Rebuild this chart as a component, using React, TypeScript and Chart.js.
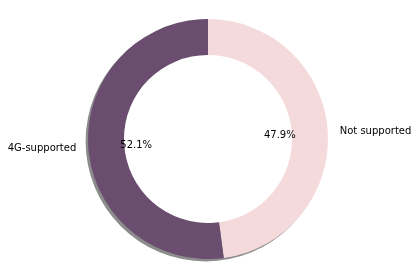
import React, { useEffect, useRef } from "react";
import { Chart, registerables } from "chart.js";

Chart.register(...registerables);

const categories = ["Not supported", "4G-supported"];
const shares = [47.9, 52.1];
const sliceColors = ["#f5dadc", "#6a4d6f"];

const shadowPlugin = {
  id: "pieShadow",
  beforeDatasetsDraw(chart: any) {
    const meta = chart.getDatasetMeta(0);
    const arc = meta.data[0];
    if (!arc) return;
    const { x, y, outerRadius, innerRadius } = arc.getProps(["x", "y", "outerRadius", "innerRadius"], true);
    const ctx = chart.ctx;
    const off = outerRadius * 0.02;
    ctx.save();
    ctx.beginPath();
    ctx.arc(x - off, y + off, outerRadius, 0, Math.PI * 2);
    ctx.arc(x, y, innerRadius + 4, 0, Math.PI * 2, true);
    ctx.fillStyle = "rgba(0,0,0,0.45)";
    ctx.fill("evenodd");
    ctx.restore();
  },
};

const labelPlugin = {
  id: "pieLabels",
  afterDatasetsDraw(chart: any) {
    const meta = chart.getDatasetMeta(0);
    const ctx = chart.ctx;
    ctx.save();
    ctx.font = "10px 'DejaVu Sans'";
    ctx.fillStyle = "#000";
    ctx.textBaseline = "middle";
    meta.data.forEach((arc: any, i: number) => {
      const { x, y, startAngle, endAngle, outerRadius } = arc.getProps(
        ["x", "y", "startAngle", "endAngle", "outerRadius"],
        true
      );
      const mid = (startAngle + endAngle) / 2;
      const cx = Math.cos(mid);
      const cy = Math.sin(mid);
      const dy = 1.2;
      ctx.textAlign = cx >= 0 ? "left" : "right";
      ctx.fillText(categories[i], x + cx * outerRadius * 1.1, y + cy * outerRadius * 1.1 + dy);
      ctx.textAlign = "center";
      ctx.fillText(shares[i].toFixed(1) + "%", x + cx * outerRadius * 0.6, y + cy * outerRadius * 0.6 + dy);
    });
    ctx.restore();
  },
};

export default function App() {
  const ref = useRef<HTMLCanvasElement>(null);
  useEffect(() => {
    document.body.style.margin = "0";
    const chart = new Chart(ref.current!, {
      type: "doughnut",
      data: {
        labels: categories,
        datasets: [
          {
            data: shares,
            backgroundColor: sliceColors,
            borderWidth: 0,
          },
        ],
      },
      options: {
        responsive: false,
        animation: false,
        cutout: "70%",
        layout: { padding: { left: 88, right: 90, top: 19, bottom: 21 } },
        plugins: {
          legend: { display: false },
          tooltip: { enabled: false },
        },
      },
      plugins: [shadowPlugin, labelPlugin],
    });
    return () => chart.destroy();
  }, []);
  return (
    <div style={{ width: 418, height: 280, background: "#fff" }}>
      <canvas ref={ref} width={418} height={280} />
    </div>
  );
}
